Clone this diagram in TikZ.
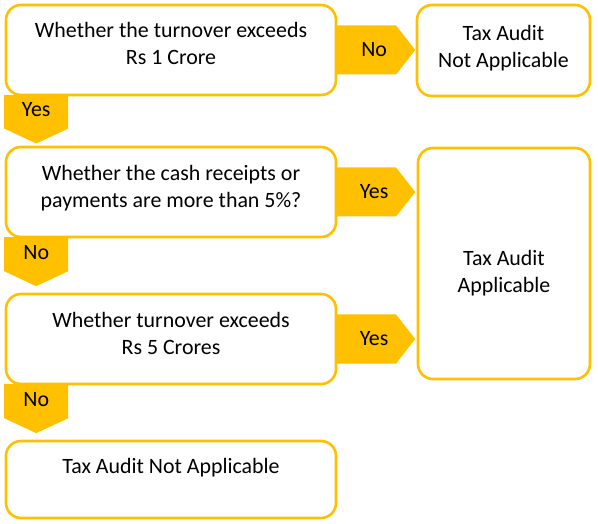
\documentclass[tikz,border=0pt]{standalone}
\usepackage{fontspec}
\setmainfont{Carlito}
\usetikzlibrary{positioning,shapes.symbols}
\definecolor{audit}{HTML}{FFC000}

\begin{document}
\begin{tikzpicture}[x=1pt, y=-1pt,
                    box/.style={draw=audit, line width=2.6pt, fill=white,
                                rounded corners=15pt, outer sep=0pt, inner sep=0pt},
                    boxtext/.style={align=center, inner sep=0pt,
                                    font=\fontsize{21.9}{27}\selectfont},
                    rightflow/.style={signal, signal to=east, fill=audit, inner sep=0pt,
                                      minimum width=79pt, minimum height=49pt,
                                      signal pointer angle=104, anchor=west,
                                      execute at begin node=\hspace*{16pt},
                                      font=\fontsize{21.9}{23}\selectfont},
                    downflow/.style={signal, signal to=south, fill=audit, inner sep=0pt,
                                     minimum width=64pt, minimum height=40pt,
                                     signal pointer angle=130, anchor=north west,
                                     text height=14pt, text depth=4pt,
                                     font=\fontsize{21.9}{23}\selectfont}
                   ]
\useasboundingbox (0,0) rectangle (598,524);

% question boxes on the left
\node [box, minimum width=330pt, minimum height=90pt] (turnover) at (171,50) {};
\node [box, minimum width=330pt, minimum height=90pt] (cash) at (171,192) {};
\node [box, minimum width=330pt, minimum height=90pt] (crores) at (171,339) {};
\node [box, minimum width=330pt, minimum height=77pt] (notlast) at (171,479.5) {};

% result boxes on the right
\node [box, minimum width=173pt, minimum height=91pt] (nottop) at (503.5,50.5) {};
\node [box, minimum width=172pt, minimum height=231pt] (applies) at (504,263.5) {};

% texts
\node [boxtext, below=17.5pt of turnover.north] (turnovertext)
      {Whether the turnover exceeds\\Rs 1 Crore};
\node [boxtext, below=18.5pt of cash.north] (cashtext)
      {Whether the cash receipts or\\payments are more than 5\%?};
\node [boxtext, below=18.5pt of crores.north] (crorestext)
      {Whether turnover exceeds\\Rs 5 Crores};
\node [boxtext, below=17.5pt of notlast.north] (notlasttext)
      {Tax Audit Not Applicable};
\node [boxtext, below=20pt of nottop.north] (nottoptext)
      {Tax Audit\\Not Applicable};
\node [boxtext, below=102.5pt of applies.north] (appliestext)
      {Tax Audit\\Applicable};

% flow arrows
\node [rightflow] (no1) at (turnover.east) {No};
\node [rightflow] (yes2) at (cash.east) {Yes};
\node [rightflow] (yes3) at (crores.east) {Yes};
\node [downflow] (yes1) at ([xshift=-2pt]turnover.south west) {Yes};
\node [downflow] (no2) at ([xshift=-2pt]cash.south west) {No};
\node [downflow] (no3) at ([xshift=-2pt]crores.south west) {No};
\end{tikzpicture}
\end{document}
